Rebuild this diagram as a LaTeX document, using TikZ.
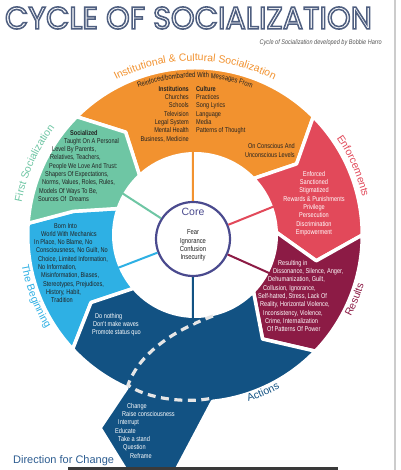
\documentclass[tikz,border=0pt]{standalone}
\usepackage{fontspec}
\setmainfont{Liberation Sans}
\newfontfamily\bodyfont[FakeStretch=0.8]{Liberation Sans}
\newfontfamily\subfont[FakeStretch=0.82]{Liberation Sans}
\newfontfamily\titlefont{Poppins}
\usetikzlibrary{calc,decorations.text}
\definecolor{orangeC}{HTML}{F2922F}
\definecolor{redC}{HTML}{E2495A}
\definecolor{maroonC}{HTML}{8C1B45}
\definecolor{dblueC}{HTML}{125283}
\definecolor{lblueC}{HTML}{2EB0E4}
\definecolor{tealC}{HTML}{6EC6A4}
\definecolor{coreC}{HTML}{4A4A8E}
\definecolor{titleC}{HTML}{4F5F80}
\definecolor{subC}{HTML}{555555}
\definecolor{dirC}{HTML}{2D5D91}
\definecolor{txtC}{HTML}{222222}
\definecolor{dashC}{HTML}{E6E6E6}
\definecolor{barC}{HTML}{3A3A3A}
\definecolor{edgeC}{HTML}{CCCCCC}
\newcommand\labfont{\fontsize{10.5}{12}\selectfont}
\newcommand\outlinetext[1]{\special{pdf:code q 1 Tr 0.5 w 0.31 0.373 0.502 RG}#1\special{pdf:code Q}}
% color, trailing (outer, tip, inner) angles, leading (outer, tip, inner) angles
\newcommand\ringseg[7]{%
  \path[seg, fill=#1] ($(C)+(#2:\Ro)$) arc[start angle=#2, end angle=#5, radius=\Ro]
    -- ($(C)+(#6:\Rm)$) -- ($(C)+(#7:\Ri)$)
    arc[start angle=#7, end angle=#4, radius=\Ri]
    -- ($(C)+(#3:\Rm)$) -- cycle;}
\begin{document}
\begin{tikzpicture}[x=1pt, y=1pt,
  seg/.style={draw=white, line width=3.5pt, line join=round},
  body/.style={font=\bodyfont\fontsize{7}{8.3}\selectfont, inner sep=0pt},
  spoke/.style={line width=2pt}]
\useasboundingbox (0,0) rectangle (400,470);
\fill[white] (0,0) rectangle (400,470);
\coordinate (C) at (195,235);
\def\Ro{167.25}\def\Ri{81.25}\def\Rm{124}
% ring segments
\ringseg{orangeC}{135}{124}{133}{45}{35}{44}
\ringseg{redC}{45}{35}{44}{0}{-12}{2}
\ringseg{maroonC}{0}{-12}{2}{-44}{-57}{-44}
\ringseg{lblueC}{223}{213}{221}{176}{169}{161}
\ringseg{tealC}{176}{169}{161}{135}{124}{133}
\path[seg, fill=dblueC] ($(C)+(316:\Ro)$) arc[start angle=316, end angle=276, radius=\Ro]
  -- (173.5,-5) -- (129,-5) -- (100,42) -- ($(C)+(246:\Ro)$)
  arc[start angle=246, end angle=223, radius=\Ro]
  -- ($(C)+(213:\Rm)$) -- ($(C)+(221:\Ri)$)
  arc[start angle=221, end angle=316, radius=\Ri]
  -- ($(C)+(303:\Rm)$) -- cycle;
% direction for change dashed path
\draw[dashC, line width=3.2pt, dash pattern=on 8pt off 5.5pt]
  (213,154) .. controls (175,140) and (140,118) .. (128,85)
  .. controls (145,72) and (185,66) .. (213,72);
% core
\node[circle, draw=coreC, line width=2.2pt, fill=white, minimum size=74pt, inner sep=0pt] (core) at (193,231) {};
\node[text=coreC, font=\fontsize{10.5}{12}\selectfont, inner sep=0pt] (coreTitle) at (193,258) {Core};
\node[body, font=\bodyfont\fontsize{7.3}{8.3}\selectfont, align=center, anchor=north, text=txtC] (coreList) at (193,240.5) {Fear\\Ignorance\\Confusion\\Insecurity};
\coordinate (aOr) at ($(C)+(91.4:88)$);
\coordinate (aRed) at ($(C)+(20:88)$);
\coordinate (aMar) at ($(C)+(-27:88)$);
\coordinate (aDb) at ($(C)+(268.6:88)$);
\coordinate (aLb) at ($(C)+(203:88)$);
\coordinate (aTeal) at ($(C)+(150:88)$);
\draw[spoke, orangeC] (core) -- (aOr);
\draw[spoke, redC] (core) -- (aRed);
\draw[spoke, maroonC] (core) -- (aMar);
\draw[spoke, dblueC] (core) -- (aDb);
\draw[spoke, lblueC] (core) -- (aLb);
\draw[spoke, tealC] (core) -- (aTeal);
% arc labels
\path[decorate, decoration={text along path, text align=center,
  text={|\labfont\color{orangeC}|Institutional {\&} Cultural Socialization}}]
  ($(C)+(140:174)$) arc[start angle=140, end angle=40, radius=174];
\path[decorate, decoration={text along path, text align=center,
  text={|\bodyfont\fontsize{7.4}{8}\selectfont\color{txtC}|Reinfoced{/}bombarded With Messages From}}]
  ($(C)+(125:157.5)$) arc[start angle=125, end angle=55, radius=157.5];
\path[decorate, decoration={text along path, text align=center,
  text={|\labfont\color{redC}|Enforcements}}]
  ($(C)+(63.6:171.5)$) arc[start angle=63.6, end angle=-16.4, radius=171.5];
\path[decorate, decoration={text along path, text align=center,
  text={|\labfont\color{tealC}|First Socialization}}]
  ($(C)+(196:176.5)$) arc[start angle=196, end angle=116, radius=176.5];
\path[decorate, decoration={text along path, text align=center,
  text={|\labfont\color{maroonC}|Results}}]
  ($(C)+(-62:176)$) arc[start angle=-62, end angle=18, radius=176];
\path[decorate, decoration={text along path, text align=center,
  text={|\labfont\color{dblueC}|Actions}}]
  ($(C)+(-106.6:175)$) arc[start angle=-106.6, end angle=-26.6, radius=175];
\path[decorate, decoration={text along path, text align=center,
  text={|\labfont\color{lblueC}|The Beginning}}]
  ($(C)+(161:176)$) arc[start angle=161, end angle=241, radius=176];
% segment texts
\node[body, anchor=north east, align=right, text=txtC] (instCol) at (189,384)
  {\textbf{Institutions}\\Churches\\Schools\\Television\\Legal System\\Mental Health\\Business, Medicine};
\node[body, anchor=north west, align=left, text=txtC] (cultCol) at (196,384)
  {\textbf{Culture}\\Practices\\Song Lyrics\\Language\\Media\\Patterns of Thought};
\node[body, anchor=north east, align=right, text=txtC] (levels) at (295,326.5)
  {On Conscious And\\Unconscious Levels};
\foreach \i/\dx/\txt in {1/32/{\textbf{Socialized}},
    2/26/{Taught On A Personal},
    3/14/{Level By Parents,},
    4/12/{Relatives, Teachers,},
    5/11/{People We Love And Trust:},
    6/7/{Shapers Of Expectations,},
    7/4/{Norms, Values, Roles, Rules,},
    8/1/{Models Of Ways To Be,},
    9/0/{Sources Of\ \ Dreams}}
  \node[body, anchor=base west, text=txtC] (fs\i) at ({38+\dx},{334.9-(\i-1)*8.3}) {\txt};
\node[body, anchor=north, align=center, text=white] (enfText) at (314,299)
  {Enforced\\Sanctioned\\Stigmatized\\Rewards \& Punishments\\Privilege\\Persecution\\Discrimination\\Empowerment};
\node[body, anchor=north west, align=left, text=white] (resText) at (258,210)
  {\hspace*{20pt}Resulting in\\
   \hspace*{15pt}Dissonance, Silence, Anger,\\
   \hspace*{10pt}Dehumanization, Guilt,\\
   \hspace*{5pt}Collusion, Ignorance,\\
   Self-hatred, Stress, Lack Of\\
   \hspace*{2pt}Reality, Horizontal Violence,\\
   \hspace*{5pt}Inconsistency, Violence,\\
   \hspace*{7pt}Crime, Internalization\\
   \hspace*{9pt}Of Patterns Of Power};
\node[body, anchor=north west, align=left, text=txtC] (begText) at (34,247)
  {\hspace*{20pt}Born Into\\
   \hspace*{7pt}World With Mechanics\\
   In Place, No Blame, No\\
   \hspace*{2pt}Consciousness, No Guilt, No\\
   \hspace*{4pt}Choice, Limited Information,\\
   \hspace*{4pt}No Information,\\
   \hspace*{7pt}Misinformation, Biases,\\
   \hspace*{9pt}Stereotypes, Prejudices,\\
   \hspace*{12pt}History, Habit,\\
   \hspace*{17pt}Tradition};
\node[body, anchor=north west, align=left, text=white] (actText) at (92,157)
  {\hspace*{3pt}Do nothing\\
   \hspace*{1pt}Don't make waves\\
   Promote status quo};
\node[body, anchor=north west, align=left, text=white] (chgText) at (115,67)
  {\hspace*{12pt}Change\\
   \hspace*{7pt}Raise consciousness\\
   \hspace*{3pt}Interrupt\\
   Educate\\
   \hspace*{3pt}Take a stand\\
   \hspace*{8pt}Question\\
   \hspace*{15pt}Reframe};
% titles
\node[inner sep=0pt, text=titleC] (title) at (188.5,452)
  {\resizebox{367pt}{22pt}{\titlefont\outlinetext{CYCLE OF SOCIALIZATION}}};
\node[anchor=east, inner sep=0pt, text=subC, font=\subfont\itshape\fontsize{6.8}{8}\selectfont] (credit) at (382,427)
  {Cycle of Socialization developed by Bobbie Harro};
\node[anchor=base west, inner sep=0pt, text=dirC, font=\fontsize{11}{13}\selectfont] (dir) at (13,6)
  {Direction for Change};
% page edges
\fill[barC] (68,0) rectangle (338,2.5);
\draw[edgeC, line width=1.2pt] (395,0) -- (395,470);
\end{tikzpicture}
\end{document}
